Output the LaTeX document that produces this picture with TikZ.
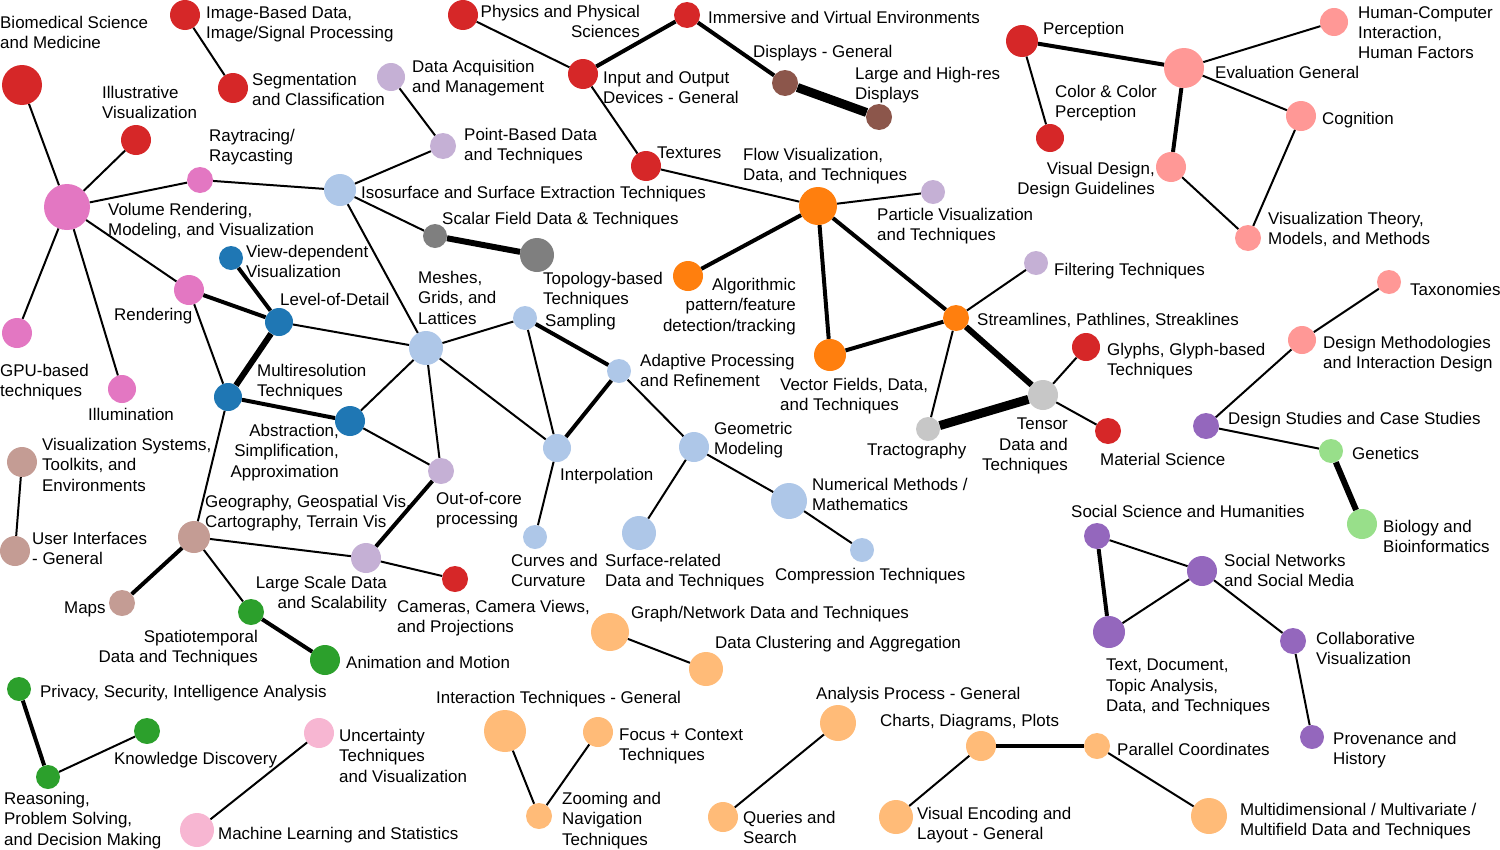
\documentclass[tikz,border=0pt]{standalone}
\usepackage{fontspec}
\setmainfont{Liberation Sans}
\begin{document}
\definecolor{cR}{RGB}{214,39,40}
\definecolor{cPk}{RGB}{227,119,194}
\definecolor{cLv}{RGB}{197,176,213}
\definecolor{cLb}{RGB}{174,199,232}
\definecolor{cB}{RGB}{31,119,180}
\definecolor{cO}{RGB}{255,127,14}
\definecolor{cG}{RGB}{127,127,127}
\definecolor{cLg}{RGB}{199,199,199}
\definecolor{cBr}{RGB}{140,86,75}
\definecolor{cT}{RGB}{196,156,148}
\definecolor{cGr}{RGB}{44,160,44}
\definecolor{cLgr}{RGB}{152,223,138}
\definecolor{cPu}{RGB}{148,103,189}
\definecolor{cLp}{RGB}{247,182,210}
\definecolor{cS}{RGB}{255,152,150}
\definecolor{cLo}{RGB}{255,187,120}
\begin{tikzpicture}[x=1bp,y=-1bp,
  dot/.style={circle,draw=none,inner sep=0pt},
  lab/.style={anchor=north west,inner sep=0pt,align=left,yshift=-2bp,font=\fontsize{17}{20.5}\selectfont},
  e/.style={line width=2pt},
  m/.style={line width=4pt},
  t/.style={line width=6pt},
  vt/.style={line width=9pt}]
\useasboundingbox (0,0) rectangle (1500,849);
\newcommand\nd[5]{\node[dot,fill=#5,minimum size={2*#4bp}] (#1) at (#2,#3) {};}
% nodes
\nd{biomed}{22}{85}{20}{cR}
\nd{imagebased}{185}{15}{15}{cR}
\nd{segmentation}{233}{88}{15}{cR}
\nd{illustrative}{136}{140}{15}{cR}
\nd{volume}{67}{207}{23}{cPk}
\nd{raytracing}{200}{180}{13}{cPk}
\nd{gpu}{17}{333}{15}{cPk}
\nd{illumination}{122}{389}{14}{cPk}
\nd{rendering}{189}{290}{15}{cPk}
\nd{isosurface}{340}{190}{16}{cLb}
\nd{dataacq}{391}{77}{14}{cLv}
\nd{pointbased}{443}{146}{13}{cLv}
\nd{physics}{463}{15}{15}{cR}
\nd{immersive}{687}{15}{13}{cR}
\nd{inputoutput}{583}{74}{15}{cR}
\nd{displays}{785}{83}{13}{cBr}
\nd{largehigh}{879}{117}{13}{cBr}
\nd{textures}{646}{166}{15}{cR}
\nd{scalarfield}{435}{236}{12}{cG}
\nd{topology}{537}{255}{17}{cG}
\nd{flowvis}{818}{206}{19}{cO}
\nd{particle}{933}{192}{12}{cLv}
\nd{algorithmic}{688}{276}{15}{cO}
\nd{viewdep}{231}{258}{12}{cB}
\nd{lod}{279}{322}{14}{cB}
\nd{meshes}{426}{348}{17}{cLb}
\nd{sampling}{525}{318}{12}{cLb}
\nd{adaptive}{619}{371}{12}{cLb}
\nd{multires}{228}{397}{14}{cB}
\nd{abstraction}{350}{421}{15}{cB}
\nd{outofcore}{441}{471}{13}{cLv}
\nd{interpolation}{557}{448}{14}{cLb}
\nd{geometric}{694}{447}{15}{cLb}
\nd{numerical}{789}{501}{18}{cLb}
\nd{compression}{862}{550}{12}{cLb}
\nd{curves}{535}{537}{12}{cLb}
\nd{surfacerel}{639}{533}{17}{cLb}
\nd{filtering}{1036}{263}{12}{cLv}
\nd{streamlines}{956}{318}{13}{cO}
\nd{vectorfields}{830}{355}{16}{cO}
\nd{glyphs}{1086}{347}{14}{cR}
\nd{tensor}{1043}{395}{15}{cLg}
\nd{tractography}{928}{429}{12}{cLg}
\nd{material}{1108}{431}{13}{cR}
\nd{perception}{1022}{41}{16}{cR}
\nd{colorperc}{1050}{138}{14}{cR}
\nd{evaluation}{1184}{68}{20}{cS}
\nd{hci}{1334}{22}{14}{cS}
\nd{cognition}{1301}{116}{15}{cS}
\nd{visdesign}{1171}{167}{15}{cS}
\nd{vistheory}{1248}{238}{13}{cS}
\nd{taxonomies}{1389}{282}{12}{cS}
\nd{designmeth}{1302}{340}{14}{cS}
\nd{designstud}{1206}{426}{13}{cPu}
\nd{genetics}{1331}{451}{12}{cLgr}
\nd{biology}{1362}{524}{15}{cLgr}
\nd{socialsci}{1097}{536}{13}{cPu}
\nd{socialnet}{1202}{571}{15}{cPu}
\nd{text}{1109}{632}{16}{cPu}
\nd{collab}{1293}{641}{13}{cPu}
\nd{provenance}{1312}{737}{12}{cPu}
\nd{vissystems}{22}{462}{15}{cT}
\nd{userint}{15}{551}{15}{cT}
\nd{geography}{194}{537}{16}{cT}
\nd{maps}{122}{603}{13}{cT}
\nd{largescale}{366}{558}{15}{cLv}
\nd{cameras}{455}{579}{13}{cR}
\nd{spatiotemp}{251}{612}{13}{cGr}
\nd{animation}{325}{660}{15}{cGr}
\nd{graphnet}{610}{632}{19}{cLo}
\nd{clustering}{706}{669}{17}{cLo}
\nd{privacy}{19}{689}{12}{cGr}
\nd{knowledge}{147}{731}{13}{cGr}
\nd{reasoning}{48}{777}{12}{cGr}
\nd{uncertainty}{319}{733}{15}{cLp}
\nd{ml}{197}{830}{17}{cLp}
\nd{interaction}{505}{731}{21}{cLo}
\nd{focus}{598}{732}{15}{cLo}
\nd{zooming}{539}{816}{13}{cLo}
\nd{analysis}{838}{723}{18}{cLo}
\nd{queries}{723}{817}{15}{cLo}
\nd{charts}{981}{746}{15}{cLo}
\nd{parallel}{1097}{746}{13}{cLo}
\nd{visencoding}{896}{817}{17}{cLo}
\nd{multidim}{1209}{816}{18}{cLo}
% edges
\draw[e] (imagebased)--(segmentation);
\draw[e] (biomed)--(volume);
\draw[e] (illustrative)--(volume);
\draw[e] (volume)--(raytracing);
\draw[e] (volume)--(gpu);
\draw[e] (volume)--(illumination);
\draw[e] (volume)--(rendering);
\draw[e] (raytracing)--(isosurface);
\draw[e] (isosurface)--(pointbased);
\draw[e] (pointbased)--(dataacq);
\draw[e] (isosurface)--(meshes);
\draw[e] (isosurface)--(scalarfield);
\draw[t] (scalarfield)--(topology);
\draw[e] (physics)--(inputoutput);
\draw[m] (inputoutput)--(immersive);
\draw[m] (immersive)--(displays);
\draw[vt] (displays)--(largehigh);
\draw[e] (inputoutput)--(textures);
\draw[e] (textures)--(flowvis);
\draw[e] (flowvis)--(particle);
\draw[m] (flowvis)--(algorithmic);
\draw[m] (flowvis)--(vectorfields);
\draw[m] (flowvis)--(streamlines);
\draw[e] (streamlines)--(filtering);
\draw[m] (streamlines)--(vectorfields);
\draw[e] (streamlines)--(tractography);
\draw[t] (streamlines)--(tensor);
\draw[vt] (tensor)--(tractography);
\draw[e] (tensor)--(glyphs);
\draw[e] (tensor)--(material);
\draw[m] (rendering)--(lod);
\draw[e] (rendering)--(multires);
\draw[m] (viewdep)--(lod);
\draw[t] (lod)--(multires);
\draw[e] (lod)--(meshes);
\draw[e] (meshes)--(abstraction);
\draw[e] (meshes)--(sampling);
\draw[e] (meshes)--(outofcore);
\draw[e] (meshes)--(interpolation);
\draw[e] (sampling)--(interpolation);
\draw[m] (sampling)--(adaptive);
\draw[m] (adaptive)--(interpolation);
\draw[e] (adaptive)--(geometric);
\draw[e] (interpolation)--(curves);
\draw[m] (multires)--(abstraction);
\draw[e] (abstraction)--(outofcore);
\draw[e] (multires)--(geography);
\draw[e] (geometric)--(surfacerel);
\draw[e] (geometric)--(numerical);
\draw[e] (numerical)--(compression);
\draw[m] (outofcore)--(largescale);
\draw[e] (geography)--(largescale);
\draw[e] (largescale)--(cameras);
\draw[m] (geography)--(maps);
\draw[e] (geography)--(spatiotemp);
\draw[m] (spatiotemp)--(animation);
\draw[e] (vissystems)--(userint);
\draw[m] (perception)--(evaluation);
\draw[e] (perception)--(colorperc);
\draw[e] (evaluation)--(hci);
\draw[e] (evaluation)--(cognition);
\draw[m] (evaluation)--(visdesign);
\draw[e] (cognition)--(vistheory);
\draw[e] (visdesign)--(vistheory);
\draw[e] (taxonomies)--(designmeth);
\draw[e] (designmeth)--(designstud);
\draw[e] (designstud)--(genetics);
\draw[t] (genetics)--(biology);
\draw[e] (socialsci)--(socialnet);
\draw[m] (socialsci)--(text);
\draw[e] (socialnet)--(text);
\draw[e] (socialnet)--(collab);
\draw[e] (collab)--(provenance);
\draw[e] (graphnet)--(clustering);
\draw[m] (privacy)--(reasoning);
\draw[e] (reasoning)--(knowledge);
\draw[e] (uncertainty)--(ml);
\draw[e] (interaction)--(zooming);
\draw[e] (zooming)--(focus);
\draw[e] (analysis)--(queries);
\draw[e] (charts)--(visencoding);
\draw[m] (charts)--(parallel);
\draw[e] (parallel)--(multidim);
% labels
\node[lab] (l1) at (0,14) {Biomedical Science\\and Medicine};
\node[lab] (l2) at (206,4) {Image-Based Data,\\Image/Signal Processing};
\node[lab] (l3) at (252,71) {Segmentation\\and Classification};
\node[lab] (l4) at (102,84) {Illustrative\\Visualization};
\node[lab] (l5) at (108,201) {Volume Rendering,\\Modeling, and Visualization};
\node[lab] (l6) at (209,127) {Raytracing/\\Raycasting};
\node[lab] (l7) at (0,362) {GPU-based\\techniques};
\node[lab] (l8) at (88,406) {Illumination};
\node[lab] (l9) at (114,306) {Rendering};
\node[lab] (l10) at (361,184) {Isosurface and Surface Extraction Techniques};
\node[lab] (l11) at (412,58) {Data Acquisition\\and Management};
\node[lab] (l12) at (464,126) {Point-Based Data\\and Techniques};
\node[lab,align=right,anchor=north east] (l13) at (640,3) {Physics and Physical\\Sciences};
\node[lab] (l14) at (708,9) {Immersive and Virtual Environments};
\node[lab] (l15) at (603,69) {Input and Output\\Devices - General};
\node[lab] (l16) at (753,43) {Displays - General};
\node[lab] (l17) at (855,65) {Large and High-res\\Displays};
\node[lab] (l18) at (657,145) {Textures};
\node[lab] (l19) at (442,210) {Scalar Field Data \& Techniques};
\node[lab] (l20) at (543,270) {Topology-based\\Techniques};
\node[lab] (l21) at (743,146) {Flow Visualization,\\Data, and Techniques};
\node[lab] (l22) at (877,206) {Particle Visualization\\and Techniques};
\node[lab,align=right,anchor=north east] (l23) at (796,276) {Algorithmic\\pattern/feature\\detection/tracking};
\node[lab] (l24) at (246,243) {View-dependent\\Visualization};
\node[lab] (l25) at (280,291) {Level-of-Detail};
\node[lab] (l26) at (418,269) {Meshes,\\Grids, and\\Lattices};
\node[lab] (l27) at (545,312) {Sampling};
\node[lab] (l28) at (640,352) {Adaptive Processing\\and Refinement};
\node[lab] (l29) at (257,362) {Multiresolution\\Techniques};
\node[lab,align=right,anchor=north east] (l30) at (339,422) {Abstraction,\\Simplification,\\Approximation};
\node[lab] (l31) at (436,490) {Out-of-core\\processing};
\node[lab] (l32) at (560,466) {Interpolation};
\node[lab] (l33) at (714,420) {Geometric\\Modeling};
\node[lab] (l34) at (812,476) {Numerical Methods /\\Mathematics};
\node[lab] (l35) at (775,566) {Compression Techniques};
\node[lab] (l36) at (511,552) {Curves and\\Curvature};
\node[lab] (l37) at (605,552) {Surface-related\\Data and Techniques};
\node[lab] (l38) at (1054,261) {Filtering Techniques};
\node[lab] (l39) at (977,311) {Streamlines, Pathlines, Streaklines};
\node[lab] (l40) at (780,376) {Vector Fields, Data,\\and Techniques};
\node[lab] (l41) at (1107,341) {Glyphs, Glyph-based\\Techniques};
\node[lab,align=right,anchor=north east] (l42) at (1068,416) {Tensor\\Data and\\Techniques};
\node[lab] (l43) at (867,441) {Tractography};
\node[lab] (l44) at (1100,451) {Material Science};
\node[lab] (l45) at (1043,20) {Perception};
\node[lab] (l46) at (1055,83) {Color \& Color\\Perception};
\node[lab] (l47) at (1215,64) {Evaluation General};
\node[lab] (l48) at (1358,4) {Human-Computer\\Interaction,\\Human Factors};
\node[lab] (l49) at (1322,110) {Cognition};
\node[lab,align=right,anchor=north east] (l50) at (1155,160) {Visual Design,\\Design Guidelines};
\node[lab] (l51) at (1268,210) {Visualization Theory,\\Models, and Methods};
\node[lab] (l52) at (1410,281) {Taxonomies};
\node[lab] (l53) at (1323,334) {Design Methodologies\\and Interaction Design};
\node[lab] (l54) at (1228,410) {Design Studies and Case Studies};
\node[lab] (l55) at (1352,445) {Genetics};
\node[lab] (l56) at (1383,518) {Biology and\\Bioinformatics};
\node[lab] (l57) at (1071,503) {Social Science and Humanities};
\node[lab] (l58) at (1224,552) {Social Networks\\and Social Media};
\node[lab] (l59) at (1106,657) {Text, Document,\\Topic Analysis,\\Data, and Techniques};
\node[lab] (l60) at (1316,630) {Collaborative\\Visualization};
\node[lab] (l61) at (1333,730) {Provenance and\\History};
\node[lab] (l62) at (42,436) {Visualization Systems,\\Toolkits, and\\Environments};
\node[lab] (l63) at (32,530) {User Interfaces\\- General};
\node[lab] (l64) at (205,493) {Geography, Geospatial Vis,\\Cartography, Terrain Vis};
\node[lab] (l65) at (64,600) {Maps};
\node[lab,align=right,anchor=north east] (l66) at (387,574) {Large Scale Data\\and Scalability};
\node[lab] (l67) at (397,598) {Cameras, Camera Views,\\and Projections};
\node[lab,align=right,anchor=north east] (l68) at (258,628) {Spatiotemporal\\Data and Techniques};
\node[lab] (l69) at (346,654) {Animation and Motion};
\node[lab] (l70) at (631,604) {Graph/Network Data and Techniques};
\node[lab] (l71) at (715,634) {Data Clustering and Aggregation};
\node[lab] (l72) at (40,683) {Privacy, Security, Intelligence Analysis};
\node[lab] (l73) at (114,750) {Knowledge Discovery};
\node[lab] (l74) at (4,790) {Reasoning,\\Problem Solving,\\and Decision Making};
\node[lab] (l75) at (339,727) {Uncertainty\\Techniques\\and Visualization};
\node[lab] (l76) at (218,825) {Machine Learning and Statistics};
\node[lab] (l77) at (436,689) {Interaction Techniques - General};
\node[lab] (l78) at (619,726) {Focus + Context\\Techniques};
\node[lab] (l79) at (562,790) {Zooming and\\Navigation\\Techniques};
\node[lab] (l80) at (816,685) {Analysis Process - General};
\node[lab] (l81) at (743,809) {Queries and\\Search};
\node[lab] (l82) at (880,712) {Charts, Diagrams, Plots};
\node[lab] (l83) at (1117,741) {Parallel Coordinates};
\node[lab] (l84) at (917,805) {Visual Encoding and\\Layout - General};
\node[lab] (l85) at (1240,801) {Multidimensional / Multivariate /\\Multifield Data and Techniques};
\end{tikzpicture}
\end{document}
